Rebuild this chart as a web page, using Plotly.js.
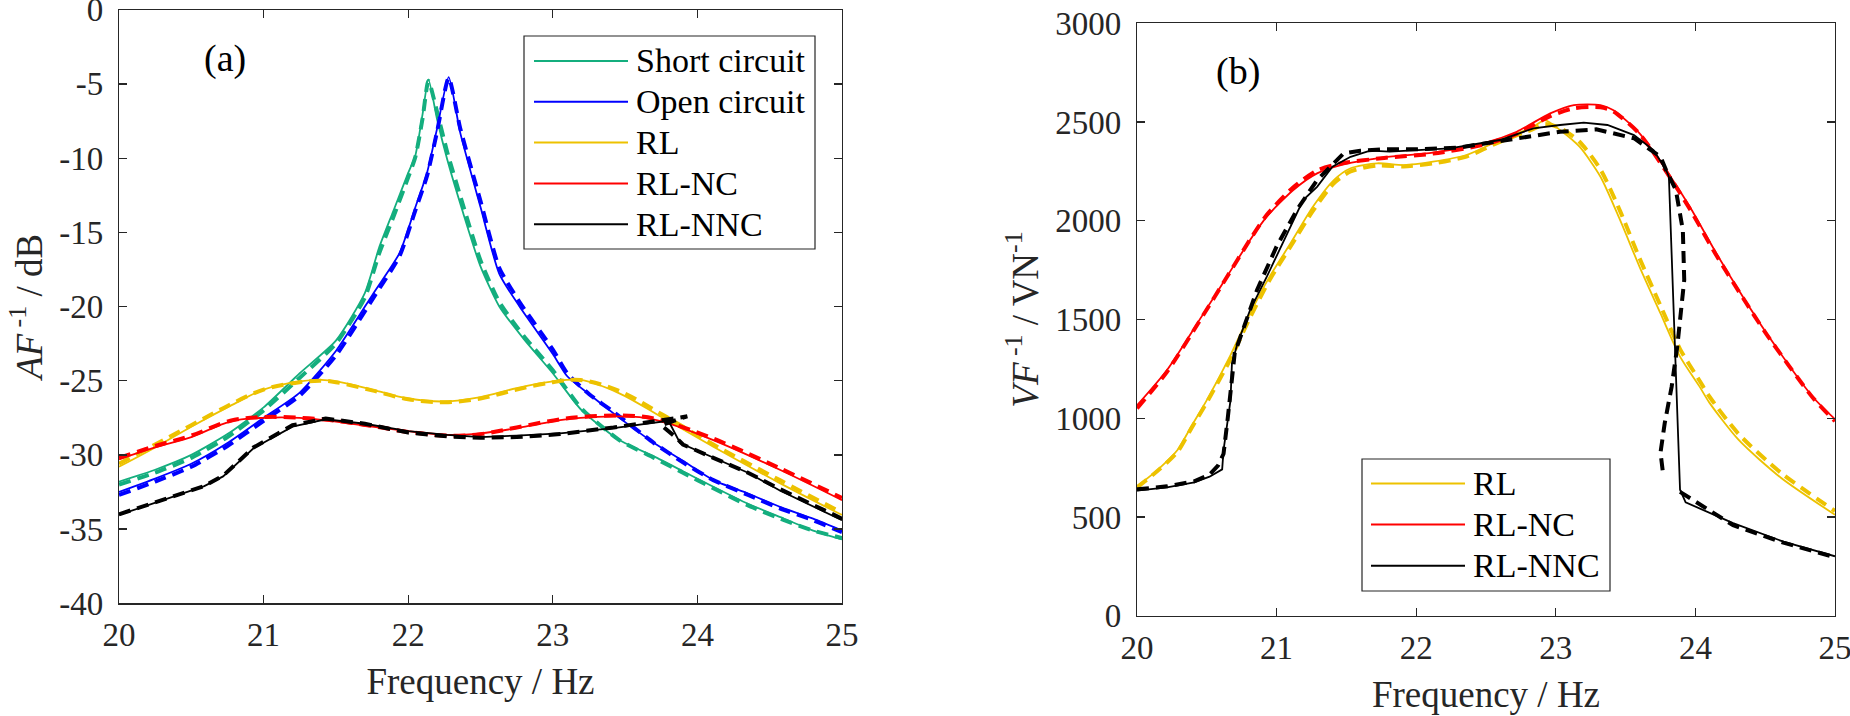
<!DOCTYPE html>
<html><head><meta charset="utf-8">
<script src="https://cdn.plot.ly/plotly-3.0.1.min.js"></script>
<style>html,body{margin:0;padding:0;background:#fff}#chart{width:1850px;height:716px}</style>
</head><body><div id="chart"></div>
<script>
// ================= DATA =================
const namesA = ['Short circuit', 'Open circuit', 'RL', 'RL-NC', 'RL-NNC'];
const namesB = ['RL', 'RL-NC', 'RL-NNC'];
const xTickVals = [20, 21, 22, 23, 24, 25];
const xTickText = ['20', '21', '22', '23', '24', '25'];
const yTickValsA = [-40, -35, -30, -25, -20, -15, -10, -5, 0];
const yTickTextA = ['-40', '-35', '-30', '-25', '-20', '-15', '-10', '-5', '0'];
const yTickValsB = [0, 500, 1000, 1500, 2000, 2500, 3000];
const yTickTextB = ['0', '500', '1000', '1500', '2000', '2500', '3000'];

// ---- panel (a): AF^-1 (dB) vs frequency (Hz); Exp = solid, Th = dashed ----
const fShortA = [20, 20.25, 20.5, 20.75, 21, 21.25, 21.5, 21.7, 21.8, 21.9, 22.0, 22.05, 22.1, 22.14, 22.2, 22.27, 22.38, 22.5, 22.63, 22.8, 23.0, 23.2, 23.46, 23.7, 23.9, 24.1, 24.35, 24.6, 24.8, 25];
const shortExpA = [-31.8, -31.0, -30.0, -28.6, -26.8, -24.5, -22.3, -19.1, -16.0, -13.5, -11.0, -9.8, -7.0, -4.7, -7.4, -10.1, -13.7, -17.3, -20.0, -22.2, -24.5, -27.0, -29.0, -30.1, -31.1, -32.1, -33.3, -34.3, -35.1, -35.7];
const shortThA = [-32.0, -31.2, -30.2, -28.8, -27.0, -24.8, -22.5, -19.4, -16.4, -13.9, -11.3, -9.9, -7.3, -4.8, -6.9, -9.6, -13.2, -16.9, -19.7, -22.0, -24.3, -26.9, -29.0, -30.2, -31.2, -32.2, -33.4, -34.4, -35.1, -35.6];

const fOpenA = [20, 20.25, 20.5, 20.75, 21, 21.25, 21.5, 21.76, 21.94, 22.05, 22.13, 22.2, 22.28, 22.36, 22.5, 22.63, 22.77, 23.0, 23.1, 23.25, 23.42, 23.7, 23.9, 24.11, 24.35, 24.57, 24.8, 25];
const openExpA = [-32.5, -31.6, -30.6, -29.2, -27.5, -25.8, -23.0, -19.1, -16.4, -13.3, -11.0, -8.0, -4.55, -8.3, -13.3, -17.8, -20.0, -23.2, -24.7, -25.9, -27.2, -29.2, -30.4, -31.7, -32.6, -33.5, -34.3, -35.1];
const openThA = [-32.7, -31.8, -30.8, -29.4, -27.7, -26.0, -23.3, -19.4, -16.6, -13.5, -11.2, -8.2, -4.6, -8.0, -12.9, -17.4, -19.7, -22.9, -24.5, -25.9, -27.1, -29.2, -30.5, -31.7, -32.7, -33.6, -34.4, -35.2];

const fRLA = [20, 20.25, 20.5, 20.75, 21, 21.25, 21.4, 21.5, 21.75, 22, 22.25, 22.5, 22.75, 23, 23.19, 23.46, 23.76, 24.11, 24.57, 25];
const rlExpA = [-30.8, -29.5, -28.1, -26.8, -25.6, -25.05, -24.95, -25.05, -25.6, -26.2, -26.4, -26.1, -25.5, -25.05, -24.95, -25.85, -27.5, -29.45, -31.9, -34.05];
const rlThA = [-30.6, -29.3, -28.0, -26.7, -25.6, -25.1, -25.0, -25.1, -25.65, -26.25, -26.45, -26.2, -25.6, -25.1, -24.95, -25.7, -27.3, -29.3, -31.7, -33.9];

const fNCA = [20, 20.25, 20.5, 20.77, 21, 21.25, 21.5, 21.75, 22, 22.27, 22.5, 22.75, 23.05, 23.19, 23.42, 23.6, 23.76, 24.11, 24.57, 25];
const ncExpA = [-30.3, -29.5, -28.8, -27.75, -27.5, -27.5, -27.75, -28.1, -28.4, -28.65, -28.55, -28.2, -27.65, -27.5, -27.4, -27.45, -27.75, -29.0, -31.0, -33.05];
const ncThA = [-30.2, -29.4, -28.7, -27.7, -27.45, -27.5, -27.7, -28.05, -28.45, -28.7, -28.6, -28.15, -27.6, -27.45, -27.35, -27.4, -27.7, -28.9, -30.9, -32.9];

const fNNCExpA = [20, 20.31, 20.59, 20.72, 20.93, 21.2, 21.43, 21.7, 22, 22.27, 22.5, 22.75, 23.05, 23.42, 23.65, 23.8, 23.88, 24.11, 24.35, 24.57, 25];
const nncExpA = [-34.05, -33.0, -32.1, -31.45, -29.55, -28.1, -27.6, -27.9, -28.4, -28.65, -28.8, -28.7, -28.55, -28.2, -27.9, -27.7, -29.2, -30.2, -31.2, -32.4, -34.4];
const fNNCThA = [20, 20.31, 20.59, 20.72, 20.93, 21.2, 21.43, 21.7, 22, 22.27, 22.5, 22.75, 23.05, 23.42, 23.65, 23.8, 23.93, 23.75, 23.85, 23.9, 24.11, 24.35, 24.57, 25];
const nncThA = [-34.0, -33.0, -32.1, -31.4, -29.5, -28.0, -27.55, -27.9, -28.5, -28.75, -28.85, -28.8, -28.6, -28.15, -27.85, -27.6, -27.4, -28.0, -28.8, -29.3, -30.2, -31.2, -32.3, -34.3];

// ---- panel (b): VF^-1 (V/N) vs frequency (Hz) ----
const fRLB = [20, 20.15, 20.29, 20.39, 20.5, 20.67, 20.81, 20.95, 21.1, 21.26, 21.41, 21.53, 21.72, 21.91, 22.12, 22.36, 22.6, 22.84, 22.92, 23.03, 23.17, 23.32, 23.46, 23.6, 23.75, 23.89, 24.03, 24.1, 24.31, 24.61, 25];
const rlExpB = [655, 740, 839, 960, 1092, 1320, 1530, 1717, 1886, 2071, 2206, 2266, 2291, 2282, 2299, 2333, 2409, 2476, 2510, 2460, 2375, 2223, 2004, 1767, 1531, 1312, 1160, 1079, 890, 700, 511];
const rlThB = [650, 735, 830, 950, 1080, 1300, 1510, 1700, 1870, 2050, 2190, 2250, 2280, 2275, 2290, 2325, 2400, 2465, 2490, 2470, 2400, 2260, 2050, 1810, 1570, 1350, 1190, 1110, 920, 725, 530];

const fNCB = [20, 20.215, 20.477, 20.644, 20.81, 20.93, 21.12, 21.29, 21.46, 21.77, 22.12, 22.48, 22.72, 22.96, 23.13, 23.32, 23.41, 23.6, 23.79, 23.96, 24.15, 24.34, 24.51, 24.84, 25];
const ncExpB = [1065, 1244, 1531, 1717, 1903, 2021, 2156, 2240, 2282, 2321, 2345, 2392, 2451, 2544, 2586, 2586, 2561, 2443, 2257, 2071, 1835, 1615, 1430, 1109, 995];
const ncThB = [1050, 1235, 1525, 1715, 1905, 2030, 2170, 2255, 2290, 2318, 2340, 2385, 2440, 2530, 2570, 2575, 2555, 2440, 2250, 2060, 1825, 1610, 1425, 1105, 985];

const fNNCExpB = [20, 20.215, 20.41, 20.52, 20.61, 20.62, 20.67, 20.68, 20.72, 20.81, 20.93, 21.1, 21.19, 21.29, 21.4, 21.53, 21.67, 21.81, 22.0, 22.24, 22.6, 22.84, 23.03, 23.2, 23.37, 23.56, 23.7, 23.79, 23.81, 23.89, 23.93, 24.27, 24.63, 25];
const nncExpB = [633, 650, 675, 704, 741, 839, 1092, 1278, 1379, 1548, 1717, 1970, 2105, 2172, 2274, 2324, 2355, 2350, 2358, 2367, 2409, 2468, 2485, 2497, 2485, 2434, 2358, 2257, 2223, 638, 574, 469, 375, 301];
const fNNCThB = [20, 20.215, 20.41, 20.52, 20.58, 20.62, 20.65, 20.7, 20.86, 21.0, 21.15, 21.29, 21.48, 21.6, 21.77, 22.0, 22.3, 22.72, 23.03, 23.29, 23.56, 23.75, 23.79, 23.86, 23.91, 23.92, 23.89, 23.87, 23.83, 23.78, 23.75, 23.77, null, 23.89, 24.27, 24.63, 25];
const nncThB = [640, 655, 680, 715, 760, 820, 1000, 1330, 1650, 1870, 2060, 2206, 2341, 2355, 2362, 2362, 2370, 2418, 2451, 2463, 2418, 2324, 2257, 2156, 1953, 1700, 1497, 1362, 1160, 974, 826, 711, null, 627, 458, 370, 296];

// ================= STYLE =================
const W = 1850, H = 716;
const COLORS = {
  'Short circuit': '#14AE7E',
  'Open circuit': '#0000FF',
  'RL': '#EDC200',
  'RL-NC': '#FF0000',
  'RL-NNC': '#000000'
};
const FONT = 'Liberation Serif, Times New Roman, serif';
const AX = '#262626';
const SOLID_W = 1.8, DASH_W = 4, DASH = '12px,7px';

// [name, fSolid, ySolid, fDashed, yDashed, smooth]
const seriesA = [
  [namesA[0], fShortA, shortExpA, fShortA, shortThA, 0.6],
  [namesA[1], fOpenA, openExpA, fOpenA, openThA, 0.6],
  [namesA[2], fRLA, rlExpA, fRLA, rlThA, 1],
  [namesA[3], fNCA, ncExpA, fNCA, ncThA, 1],
  [namesA[4], fNNCExpA, nncExpA, fNNCThA, nncThA, 0]
];
const seriesB = [
  [namesB[0], fRLB, rlExpB, fRLB, rlThB, 0.7],
  [namesB[1], fNCB, ncExpB, fNCB, ncThB, 0.7],
  [namesB[2], fNNCExpB, nncExpB, fNNCThB, nncThB, 0]
];

const traces = [];
function addSeries(list, xa, ya) {
  list.forEach(([name, fx, ye, ft, yt, sm]) => {
    const shape = sm > 0 ? {shape: 'spline', smoothing: sm} : {shape: 'linear'};
    traces.push({x: fx, y: ye, xaxis: xa, yaxis: ya, type: 'scatter', mode: 'lines', name: name,
      showlegend: false, line: Object.assign({color: COLORS[name], width: SOLID_W}, shape), connectgaps: false});
    traces.push({x: ft, y: yt, xaxis: xa, yaxis: ya, type: 'scatter', mode: 'lines', name: name + ' (theory)',
      showlegend: false, line: Object.assign({color: COLORS[name], width: DASH_W, dash: DASH}, shape), connectgaps: false});
  });
}
addSeries(seriesA, 'x', 'y');
addSeries(seriesB, 'x2', 'y2');

// panel geometry (px)
const PA = {l: 119, r: 842, t: 9.7, b: 603.3};
const PB = {l: 1137, r: 1835, t: 23.3, b: 615.7};
const px = v => v / W, py = v => 1 - v / H;

function axisX(domainBox, title) {
  return {domain: [px(domainBox.l), px(domainBox.r)], range: [20, 25], tickvals: xTickVals, ticktext: xTickText,
    ticks: 'inside', ticklen: 8, tickwidth: 1.2, tickcolor: AX, showline: true, linecolor: AX, linewidth: 1.2,
    mirror: 'allticks', showgrid: false, zeroline: false, fixedrange: true, ticklabelstandoff: 2,
    ticklabeloverflow: 'allow',
    tickfont: {family: FONT, size: 33, color: AX},
    title: {text: title, font: {family: FONT, size: 37, color: AX}, standoff: 16}};
}
function axisY(domainBox, vals, text, range, title) {
  return {domain: [py(domainBox.b), py(domainBox.t)], range: range, tickvals: vals, ticktext: text,
    ticks: 'inside', ticklen: 8, tickwidth: 1.2, tickcolor: AX, showline: true, linecolor: AX, linewidth: 1.2,
    mirror: 'allticks', showgrid: false, zeroline: false, fixedrange: true, ticklabelstandoff: 8,
    ticklabeloverflow: 'allow',
    tickfont: {family: FONT, size: 33, color: AX},
    title: {text: title, font: {family: FONT, size: 37, color: AX}, standoff: 5}};
}

// custom legends (MATLAB-style long line samples)
const shapes = [], annotations = [];
function buildLegend(names, box, lineX0, lineX1, row0, rowH, textX) {
  shapes.push({type: 'rect', xref: 'paper', yref: 'paper', x0: px(box.l), x1: px(box.r), y0: py(box.b), y1: py(box.t),
    line: {color: AX, width: 1.2}, fillcolor: '#ffffff', layer: 'above'});
  names.forEach((n, i) => {
    const yy = py(row0 + i * rowH);
    shapes.push({type: 'line', xref: 'paper', yref: 'paper', x0: px(lineX0), x1: px(lineX1), y0: yy, y1: yy,
      line: {color: COLORS[n], width: 2}, layer: 'above'});
    annotations.push({xref: 'paper', yref: 'paper', x: px(textX), y: yy, xanchor: 'left', yanchor: 'middle',
      text: n, showarrow: false, font: {family: FONT, size: 34, color: '#000'}});
  });
}
buildLegend(namesA, {l: 524, r: 815, t: 36, b: 249}, 534, 628, 61, 40.8, 634);
buildLegend(namesB, {l: 1362, r: 1610, t: 459, b: 591}, 1371, 1465, 483.5, 41.1, 1471);

annotations.push({xref: 'paper', yref: 'paper', x: px(225), y: py(58), xanchor: 'center', yanchor: 'middle',
  text: '(a)', showarrow: false, font: {family: FONT, size: 38, color: '#000'}});
annotations.push({xref: 'paper', yref: 'paper', x: px(1238), y: py(71), xanchor: 'center', yanchor: 'middle',
  text: '(b)', showarrow: false, font: {family: FONT, size: 38, color: '#000'}});

const layout = {
  width: W, height: H, margin: {l: 0, r: 0, t: 0, b: 0}, paper_bgcolor: '#fff', plot_bgcolor: '#fff',
  showlegend: false, hovermode: false,
  xaxis: axisX(PA, 'Frequency / Hz'),
  yaxis: axisY(PA, yTickValsA, yTickTextA, [-40, 0], '<i>AF</i><sup> -1</sup> / dB'),
  xaxis2: Object.assign(axisX(PB, 'Frequency / Hz'), {anchor: 'y2'}),
  yaxis2: Object.assign(axisY(PB, yTickValsB, yTickTextB, [0, 3000], '<i>VF</i><sup> -1</sup> / VN<sup>-1</sup>'), {anchor: 'x2'}),
  shapes: shapes, annotations: annotations
};
layout.xaxis.anchor = 'y';
layout.yaxis.anchor = 'x';

Plotly.newPlot('chart', traces, layout, {displayModeBar: false, staticPlot: true});
</script>
</body></html>
